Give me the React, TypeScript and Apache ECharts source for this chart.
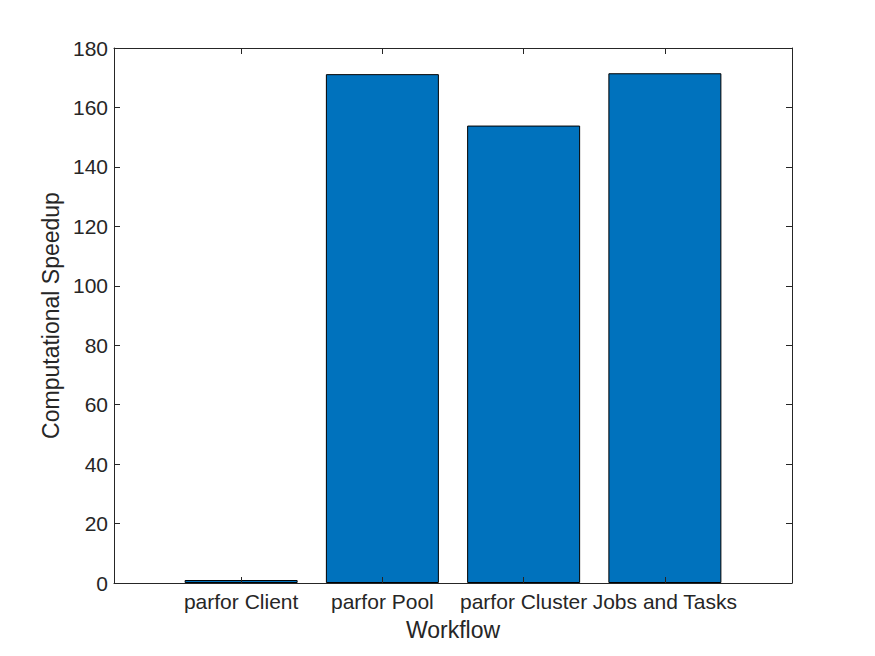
import React, { useEffect, useRef } from "react";
import * as echarts from "echarts";

const categories = ["parfor Client", "parfor Pool", "parfor Cluster", "Jobs and Tasks"];
const positions = [1, 2, 3, 4];
const speedup = [1, 171.2, 153.9, 171.5];
const yTicks = [0, 20, 40, 60, 80, 100, 120, 140, 160, 180];

const AX = "#262626";
const FONT = "Liberation Sans, Arial, Helvetica, sans-serif";

export default function App() {
  const ref = useRef<HTMLDivElement>(null);
  useEffect(() => {
    document.body.style.margin = "0";
    const chart = echarts.init(ref.current!, null, { renderer: "svg" });
    const data = positions.map((p, i) => [p, speedup[i]]);
    chart.setOption({
      animation: false,
      backgroundColor: "#ffffff",
      grid: { left: 114, top: 48, right: 83, bottom: 73, containLabel: false },
      xAxis: [
        {
          type: "value",
          min: 0.1,
          max: 4.9,
          position: "bottom",
          z: 5,
          name: "Workflow",
          nameLocation: "middle",
          nameGap: 35,
          nameTextStyle: { color: AX, fontSize: 23, fontFamily: FONT },
          axisLine: { show: true, onZero: false, lineStyle: { color: AX, width: 1 } },
          axisTick: { show: true, inside: true, length: 6, customValues: positions, lineStyle: { color: AX } },
          axisLabel: {
            show: true,
            customValues: positions,
            margin: 8,
            color: AX,
            fontSize: 21,
            fontFamily: FONT,
            formatter: (v: number) => categories[Math.round(v) - 1] ?? "",
          },
          splitLine: { show: false },
        },
        {
          type: "value",
          min: 0.1,
          max: 4.9,
          position: "top",
          z: 5,
          axisLine: { show: true, onZero: false, lineStyle: { color: AX, width: 1 } },
          axisTick: { show: true, inside: true, length: 6, customValues: positions, lineStyle: { color: AX } },
          axisLabel: { show: false },
          splitLine: { show: false },
        },
      ],
      yAxis: [
        {
          type: "value",
          min: yTicks[0],
          max: yTicks[yTicks.length - 1],
          interval: 20,
          position: "left",
          z: 5,
          name: "Computational Speedup",
          nameLocation: "middle",
          nameGap: 52,
          nameTextStyle: { color: AX, fontSize: 23, fontFamily: FONT },
          axisLine: { show: true, onZero: false, lineStyle: { color: AX, width: 1 } },
          axisTick: { show: true, inside: true, length: 6, lineStyle: { color: AX } },
          axisLabel: { show: true, margin: 6, color: AX, fontSize: 21, fontFamily: FONT },
          splitLine: { show: false },
        },
        {
          type: "value",
          min: yTicks[0],
          max: yTicks[yTicks.length - 1],
          interval: 20,
          position: "right",
          z: 5,
          axisLine: { show: true, onZero: false, lineStyle: { color: AX, width: 1 } },
          axisTick: { show: true, inside: true, length: 6, lineStyle: { color: AX } },
          axisLabel: { show: false },
          splitLine: { show: false },
        },
      ],
      series: [
        {
          type: "bar",
          xAxisIndex: 0,
          yAxisIndex: 0,
          data,
          barWidth: 113,
          itemStyle: { color: "#0072BD", borderColor: "#000000", borderWidth: 1 },
        },
      ],
    });
    return () => chart.dispose();
  }, []);
  return (
    <div
      ref={ref}
      style={{ position: "absolute", left: 0, top: 0, width: 875, height: 656 }}
    />
  );
}
